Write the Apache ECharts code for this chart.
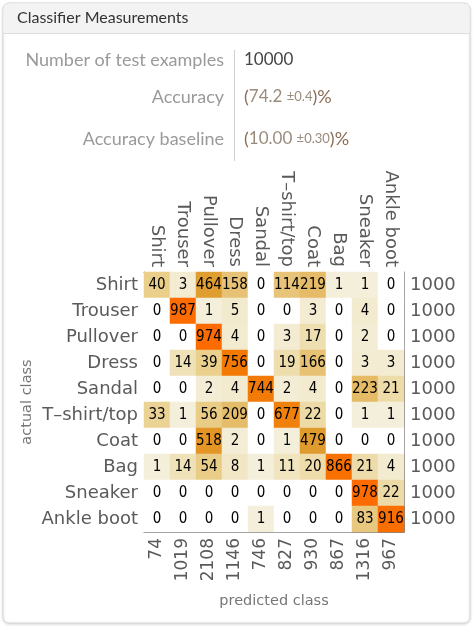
<!DOCTYPE html>
<html><head><meta charset="utf-8">
<script src="https://cdn.jsdelivr.net/npm/echarts@6/dist/echarts.min.js"></script>
<style>html,body{margin:0;padding:0;background:#fff}#c{width:474px;height:628px}</style>
</head><body><div id="c"></div>
<script>
const classes = ['Shirt','Trouser','Pullover','Dress','Sandal','T–shirt/top','Coat','Bag','Sneaker','Ankle boot'];
const matrix = [
  [40,3,464,158,0,114,219,1,1,0],
  [0,987,1,5,0,0,3,0,4,0],
  [0,0,974,4,0,3,17,0,2,0],
  [0,14,39,756,0,19,166,0,3,3],
  [0,0,2,4,744,2,4,0,223,21],
  [33,1,56,209,0,677,22,0,1,1],
  [0,0,518,2,0,1,479,0,0,0],
  [1,14,54,8,1,11,20,866,21,4],
  [0,0,0,0,0,0,0,0,978,22],
  [0,0,0,0,1,0,0,0,83,916]
];
const rowTotals = ['1000','1000','1000','1000','1000','1000','1000','1000','1000','1000'];
const colTotals = ['74','1019','2108','1146','746','827','930','867','1316','967'];
const testExamples = '10000';
const accuracy = ['74.2','±0.4'];
const baseline = ['10.00','±0.30'];

const data = [];
matrix.forEach((row, r) => row.forEach((v, c) => data.push([c, r, v, Math.sqrt(v / 1000)])));

const chart = echarts.init(document.getElementById('c'), null, {renderer: 'canvas'});
const gray = '#5a5a5a';
const FF = 'DejaVu Sans';
const CF = "'DejaVu Sans Condensed', 'Liberation Sans'";
const SF = 'Lato';
chart.setOption({
  animation: false,
  graphic: [
    {type: 'rect', shape: {x: 3, y: 3, width: 467, height: 620, r: 6}, style: {fill: '#fff', stroke: '#d8d8d8', lineWidth: 1, shadowBlur: 3, shadowColor: 'rgba(0,0,0,0.15)', shadowOffsetY: 1}, z: -10},
    {type: 'rect', shape: {x: 3.5, y: 3.5, width: 466, height: 30, r: [6, 6, 0, 0]}, style: {fill: '#f3f3f3'}, z: -9},
    {type: 'line', shape: {x1: 3, y1: 33.5, x2: 470, y2: 33.5}, style: {stroke: '#dedede', lineWidth: 1}, z: -8},
    {type: 'text', x: 17, y: 18, style: {text: 'Classifier Measurements', fill: '#333', font: '16px ' + SF, verticalAlign: 'middle'}},
    {type: 'text', x: 224, y: 60, style: {text: 'Number of test examples', fill: '#9a9a9a', font: '18px ' + SF, align: 'right', verticalAlign: 'middle'}},
    {type: 'text', x: 224, y: 97, style: {text: 'Accuracy', fill: '#9a9a9a', font: '18px ' + SF, align: 'right', verticalAlign: 'middle'}},
    {type: 'text', x: 224, y: 139, style: {text: 'Accuracy baseline', fill: '#9a9a9a', font: '18px ' + SF, align: 'right', verticalAlign: 'middle'}},
    {type: 'line', shape: {x1: 234.5, y1: 50, x2: 234.5, y2: 161}, style: {stroke: '#d0d0d0', lineWidth: 1}},
    {type: 'text', x: 244, y: 60, style: {text: testExamples, fill: '#444', font: '17px ' + SF, verticalAlign: 'middle'}},
    {type: 'text', x: 244, y: 97, style: {text: '{p|(}{v|' + accuracy[0] + ' }{e|' + accuracy[1] + '}{p|)%}', verticalAlign: 'middle',
      rich: {p: {fill: '#8a6d55', font: '18px ' + SF}, v: {fill: '#9a8c7c', font: '17px ' + SF}, e: {fill: '#9a8c7c', font: '13px ' + SF}}}},
    {type: 'text', x: 244, y: 139, style: {text: '{p|(}{v|' + baseline[0] + ' }{e|' + baseline[1] + '}{p|)%}', verticalAlign: 'middle',
      rich: {p: {fill: '#8a6d55', font: '18px ' + SF}, v: {fill: '#9a8c7c', font: '17px ' + SF}, e: {fill: '#9a8c7c', font: '13px ' + SF}}}},
    {type: 'text', x: 27, y: 402, rotation: Math.PI / 2, style: {text: 'actual class', fill: '#777', font: '14.5px ' + FF, align: 'center', verticalAlign: 'middle'}},
    {type: 'text', x: 274, y: 601, style: {text: 'predicted class', fill: '#777', font: '14.5px ' + FF, align: 'center', verticalAlign: 'middle'}}
  ],
  grid: {left: 144, top: 272, width: 260, height: 260},
  xAxis: [
    {type: 'category', data: colTotals, position: 'bottom',
      axisLine: {lineStyle: {color: '#888', width: 1}},
      axisTick: {alignWithLabel: true, length: 3, lineStyle: {color: '#888'}},
      axisLabel: {rotate: 90, color: gray, fontSize: 17, fontFamily: FF, margin: 6, interval: 0},
      splitLine: {show: false}},
    {type: 'category', data: classes, position: 'top',
      axisLine: {lineStyle: {color: '#888', width: 1}},
      axisTick: {alignWithLabel: true, length: 3, lineStyle: {color: '#888'}},
      axisLabel: {rotate: 90, color: gray, fontSize: 18, fontFamily: FF, margin: 5, interval: 0}}
  ],
  yAxis: [
    {type: 'category', data: classes, inverse: true, position: 'left',
      axisLine: {lineStyle: {color: '#888', width: 1}},
      axisTick: {alignWithLabel: true, length: 3, lineStyle: {color: '#888'}},
      axisLabel: {color: gray, fontSize: 18, fontFamily: FF, margin: 6, interval: 0}},
    {type: 'category', data: rowTotals, inverse: true, position: 'right',
      axisLine: {lineStyle: {color: '#888', width: 1}},
      axisTick: {alignWithLabel: true, length: 3, lineStyle: {color: '#888'}},
      axisLabel: {color: gray, fontSize: 18, fontFamily: FF, margin: 6, interval: 0}}
  ],
  visualMap: {
    type: 'continuous', show: false, dimension: 3, seriesIndex: 0,
    min: 0, max: 1, range: [0.0001, 1],
    inRange: {color: ['#f6f3e6', '#f0e6c2', '#eacf8b', '#e8c67c', '#e7c276', '#e4b860', '#e1aa42', '#e09a2c', '#ee8510', '#f57400', '#ff6a00']},
    outOfRange: {color: '#ffffff'}
  },
  series: [{
    type: 'heatmap', xAxisIndex: 0, yAxisIndex: 0, data: data,
    encode: {x: 0, y: 1, value: 2},
    label: {show: true, color: '#000', fontSize: 15, fontFamily: CF, formatter: p => String(p.data[2])},
    itemStyle: {borderWidth: 0}
  }]
});
</script></body></html>
